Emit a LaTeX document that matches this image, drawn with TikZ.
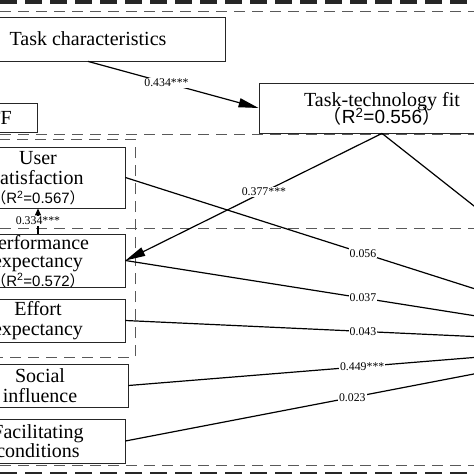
\documentclass[tikz,border=0pt]{standalone}
\usepackage{fontspec}
\setmainfont{Liberation Serif}
\newfontfamily\arial{Liberation Sans}
\newfontfamily\cjk{Noto Sans CJK SC}
\usetikzlibrary{arrows.meta}
\newcommand{\rsq}[1]{\smash{{\cjk （}R\textsuperscript{2}=#1{\cjk ）}}\vphantom{R}}
\tikzset{
    box/.style={rectangle, draw=black!85, line width=0.8pt, fill=white, align=center, inner sep=0pt, font=\fontsize{20}{19.5}\selectfont},
    arr/.style={-{Triangle[length=20pt, width=9pt]}, line width=1.2pt},
    smallarr/.style={-{Triangle[length=7pt, width=6pt]}, line width=1.2pt},
    link/.style={line width=1.2pt},
    coef/.style={fill=white, inner sep=1pt, font=\fontsize{11.8}{12}\selectfont},
    sep/.style={draw=black!65, line width=0.9pt, dash pattern=on 11pt off 7pt},
    band/.style={draw=black!85, line width=4pt, dash pattern=on 17pt off 8pt}
}
\begin{document}
\begin{tikzpicture}[x=1pt, y=-1pt]
    \useasboundingbox (0,0) rectangle (474,474);
    \clip (0,0) rectangle (474,474);

    \draw[band] (0,1.5) -- (474,1.5);
    \draw[sep] (0,11) -- (474,11);
    \draw[sep] (0,134) -- (474,134);
    \draw[sep] (0,228) -- (474,228);
    \draw[sep] (-60,139) rectangle (135,357);
    \draw[sep] (0,465) -- (474,465);
    \draw[band] (0,474) -- (474,474);

    \node[box, minimum width=274pt, minimum height=44pt] (tc) at (88,39) {Task characteristics};
    \node[box, minimum width=246pt, minimum height=50pt, font={\fontsize{20}{17.5}\selectfont\lineskiplimit=-20pt}] (ttf) at (382,108) {Task-technology fit\\{\arial\fontsize{19}{17.5}\selectfont\rsq{0.556}}};
    \node[box, minimum width=86pt, minimum height=29pt] (model) at (-6,117.5) {TTF};
    \node[box, minimum width=174pt, minimum height=61pt] (us) at (38,177.5) {User\\satisfaction\\{\arial\fontsize{15}{19.5}\selectfont\rsq{0.567}}};
    \node[box, minimum width=174pt, minimum height=53pt, font=\fontsize{20}{18.5}\selectfont] (pe) at (38,260.5) {Performance\\expectancy\\{\arial\fontsize{15}{18.5}\selectfont\rsq{0.572}}};
    \node[box, minimum width=174pt, minimum height=43pt] (ee) at (38,320.5) {Effort\\expectancy};
    \node[box, minimum width=176pt, minimum height=43pt] (si) at (40,385.5) {Social\\influence};
    \node[box, minimum width=174pt, minimum height=44pt] (fc) at (38,441) {Facilitating\\conditions};

    \coordinate (bi1) at (480,210.7);
    \coordinate (bi2) at (480,290.5);
    \coordinate (bi3) at (480,316.6);
    \coordinate (bi4) at (480,336.8);
    \coordinate (bi5) at (480,357);
    \coordinate (bi6) at (480,372.8);

    \draw[arr] (tc.south) -- node[coef, pos=0.46]{0.434***} (ttf.west);
    \draw[arr] (ttf.south) -- node[coef, pos=0.46]{0.377***} (pe.east);
    \draw[link] (ttf.south) -- (bi1);
    \draw[link] (us.east) -- node[coef, pos=0.67]{0.056} (bi2);
    \draw[link] (pe.east) -- node[coef, pos=0.67]{0.037} (bi3);
    \draw[link] (ee.east) -- node[coef, pos=0.67]{0.043} (bi4);
    \draw[link] (si.east) -- node[coef, pos=0.665]{0.449***} (bi5);
    \draw[link] (fc.east) -- node[coef, pos=0.64]{0.023} (bi6);
    \draw[smallarr] (pe.north) -- node[coef]{0.334***} (us.south);
\end{tikzpicture}
\end{document}
